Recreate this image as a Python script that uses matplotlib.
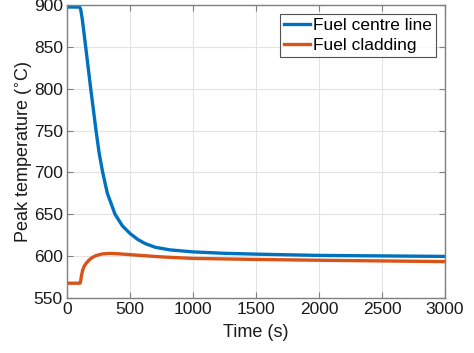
import matplotlib
matplotlib.use("Agg")
import matplotlib.pyplot as plt

plt.rcParams['font.family'] = ['Liberation Sans', 'DejaVu Sans']

# Fuel centre line (blue)
t_centre = [0, 50, 100, 108, 122, 135, 148, 168, 188, 210, 230, 255, 283, 320, 381, 440,
            500, 560, 619, 700, 817, 1000, 1250, 1532, 2000, 2500, 3000]
T_centre = [897.5, 897.5, 897.5, 895, 882, 866, 850, 825, 800, 774, 750, 723, 700, 675, 650, 636,
            627, 620, 615, 610.5, 607.4, 605, 603.3, 602.2, 600.8, 600.2, 599.6]

# Fuel cladding (orange)
t_clad = [0, 50, 103, 108, 115, 124, 135, 150, 170, 195, 230, 280, 340, 420, 500, 750,
          1000, 1500, 2000, 2500, 3000]
T_clad = [567.6, 567.6, 567.6, 570, 577, 583, 587.5, 591, 594.5, 597.8, 600.6, 602.6, 603.2,
          602.6, 601.7, 599, 597.2, 596, 595, 594.2, 593.4]

xticks = [0, 500, 1000, 1500, 2000, 2500, 3000]
yticks = [550, 600, 650, 700, 750, 800, 850, 900]

fig = plt.figure(figsize=(4.74, 3.53), dpi=100)
ax = fig.add_axes([0.1414, 0.156, 0.7975, 0.830])

ax.plot(t_centre, T_centre, color='#0072BD', lw=2.4, label='Fuel centre line')
ax.plot(t_clad, T_clad, color='#D95319', lw=2.4, label='Fuel cladding')

ax.set_xlim(0, 3000)
ax.set_ylim(550, 900)
ax.set_xticks(xticks)
ax.set_yticks(yticks)
ax.grid(True, color='#e3e3e3', lw=0.8)
ax.set_axisbelow(True)
for s in ax.spines.values():
    s.set_color('#7f7f7f')
    s.set_linewidth(1.0)
ax.tick_params(direction='in', length=4, color='#7f7f7f', labelsize=12.5,
               labelcolor='#1a1a1a', top=True, right=True, labeltop=False, labelright=False, pad=3)
ax.set_xlabel('Time (s)', fontsize=13, color='#1a1a1a', labelpad=5)
ax.set_ylabel('Peak temperature ($^{\\circ}$C)', fontsize=13, color='#1a1a1a', labelpad=-1)

leg = ax.legend(loc='upper right', fontsize=12.5, frameon=True, fancybox=False,
                edgecolor='#262626', handlelength=1.45, handletextpad=0.2,
                borderpad=0.25, labelspacing=0.25, borderaxespad=0.5)
leg.get_frame().set_linewidth(0.8)

fig.savefig('out.png', dpi=100)
